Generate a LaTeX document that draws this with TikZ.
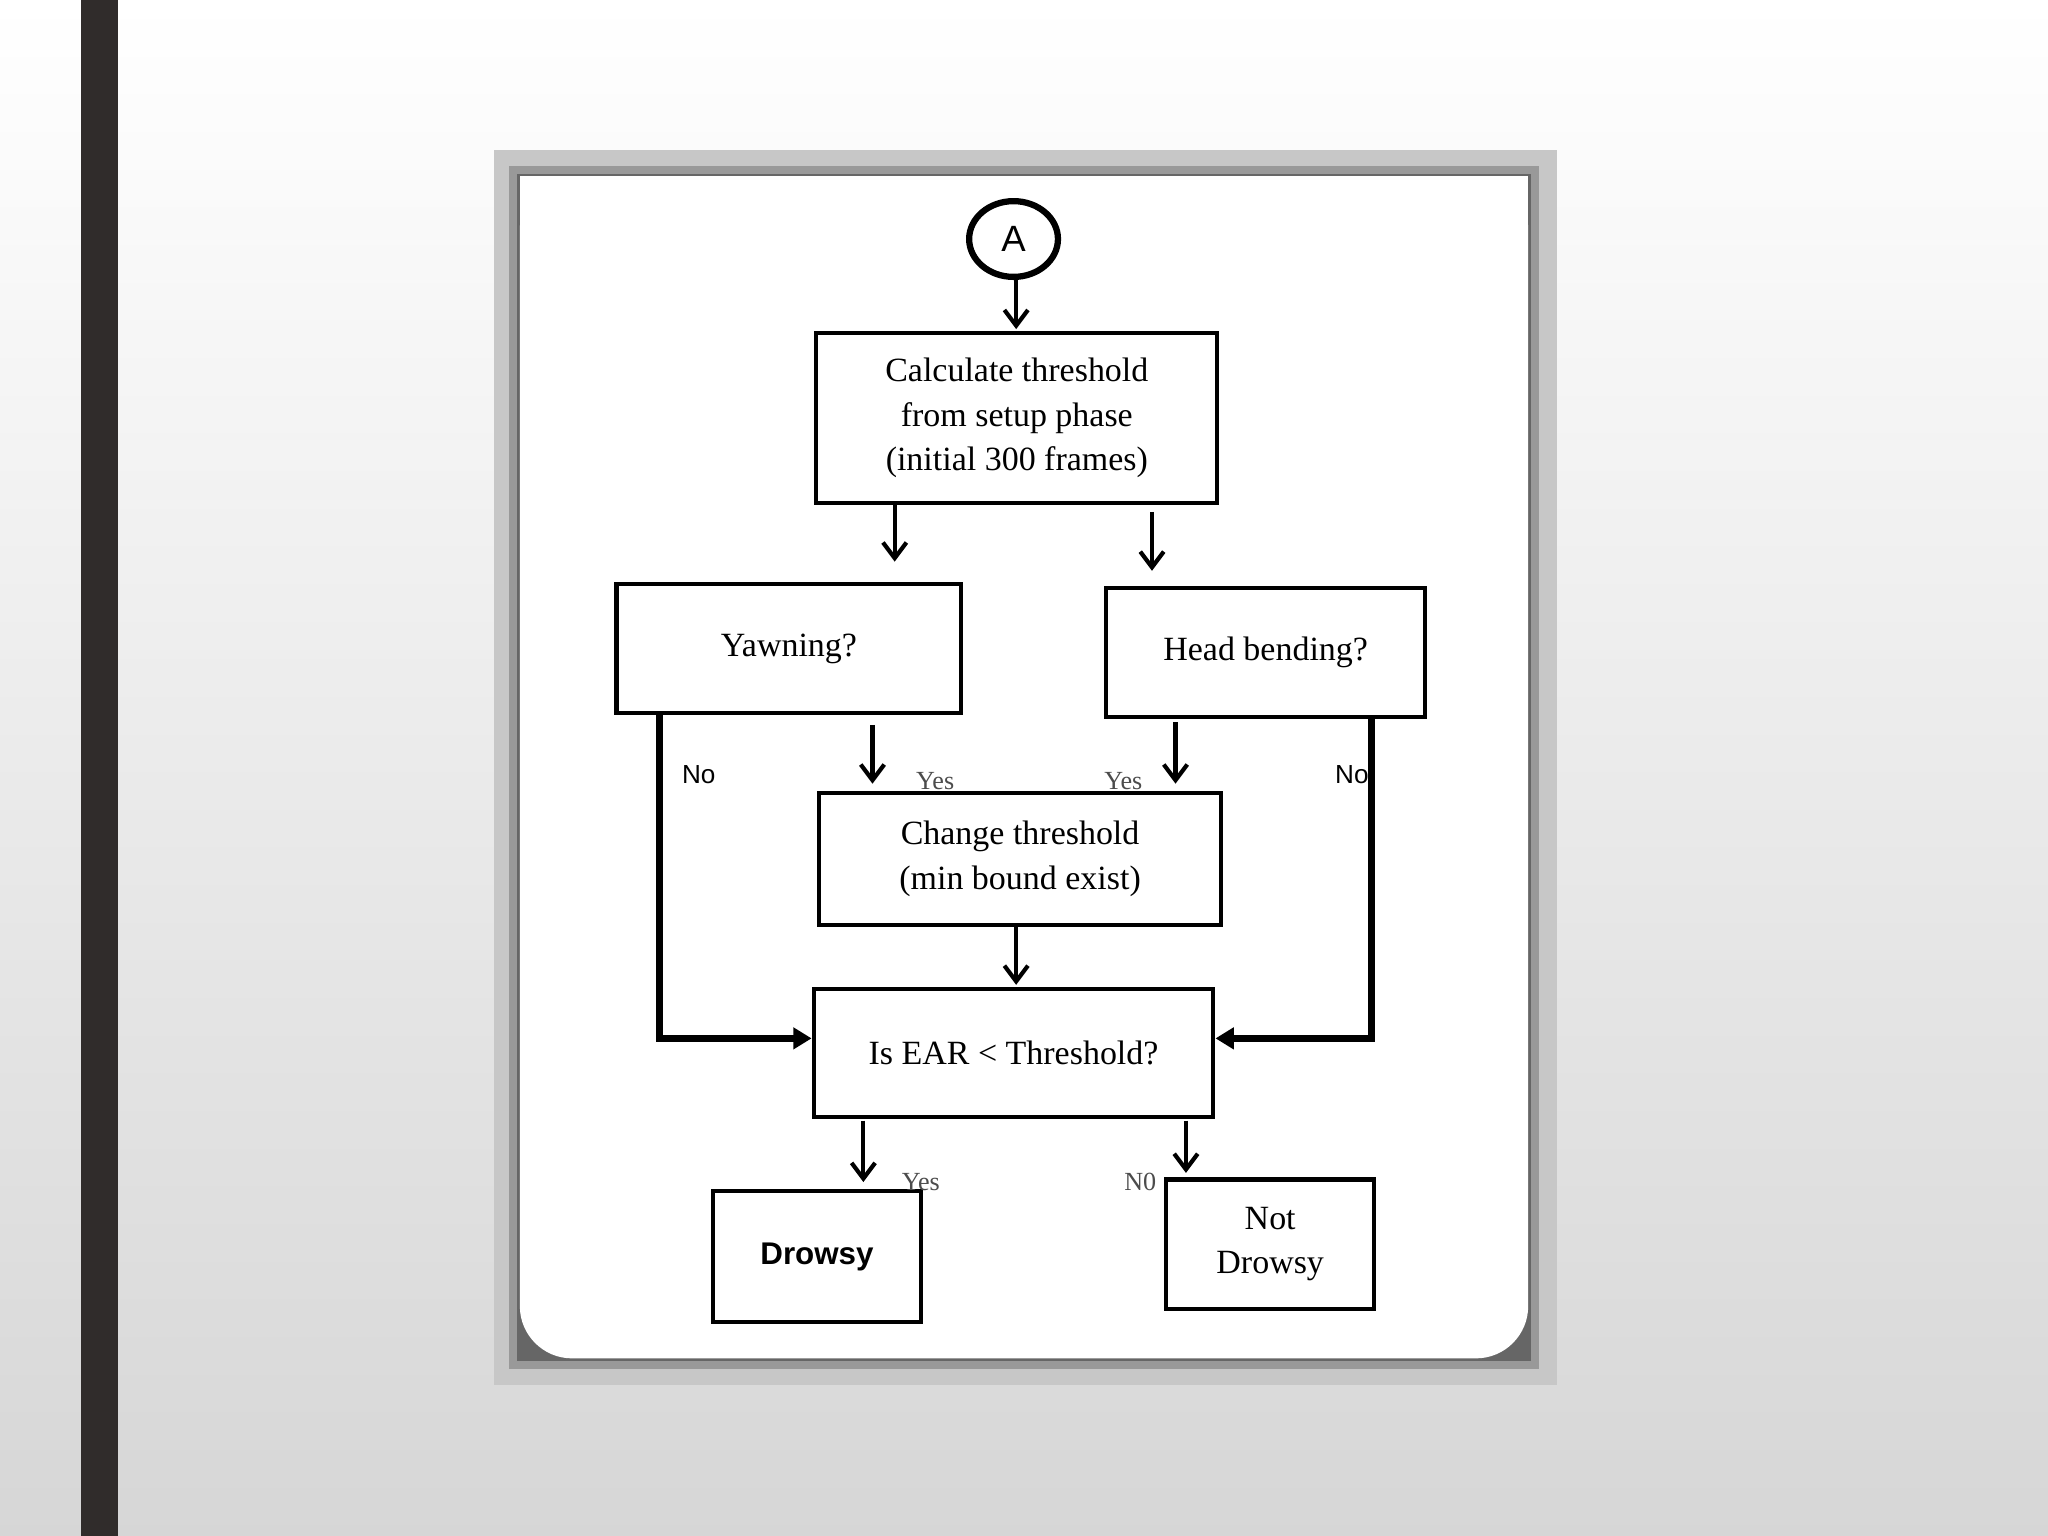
\documentclass[tikz,border=0pt]{standalone}
\usepackage{fontspec}
\setmainfont{Liberation Serif}
\newfontfamily\sansf{Liberation Sans}
\usetikzlibrary{arrows.meta,shapes.geometric}
\begin{document}
\begin{tikzpicture}[x=0.5pt,y=-0.5pt,
 box/.style={draw,line width=1.6pt,inner sep=0pt},
 arr/.style={line width=1.6pt,-{Straight Barb[length=6pt,width=9pt]}},
 thk/.style={line width=2.6pt,-{Triangle[length=7pt,width=8pt]}},
 lbl/.style={font=\fontsize{10}{12}\selectfont}]
\useasboundingbox (0,0) rectangle (1568,1176);
\shade[top color=white,bottom color=black!16] (0,0) rectangle (1568,1176);
\fill[black!90!yellow!60!black] (62,0) rectangle (90,1176);
\fill[black!22] (378,115) rectangle (1192,1060);
\fill[black!40] (390,127) rectangle (1178,1048);
\fill[black!60] (396,133) rectangle (1172,1042);
\fill[white,rounded corners=20pt] (398,135) -- (1170,135) -- (1170,1040) -- (398,1040) -- cycle;
\fill[white] (398,135) rectangle (1170,1000);
\node[draw,ellipse,line width=2.4pt,minimum width=34pt,minimum height=29pt,inner sep=0pt,font=\sansf\fontsize{14}{14}\selectfont] (A) at (776,183) {A};
\node[box,minimum width=153.5pt,minimum height=65pt,align=center,font=\fontsize{13}{17}\selectfont] (calc) at (778.5,320) {\raisebox{-5pt}{\parbox{150pt}{\centering Calculate threshold\\from setup phase\\(initial 300 frames)}}};
\node[box,minimum width=132pt,minimum height=49.5pt,font=\fontsize{13}{15}\selectfont] (yawn) at (604,496.5) {\raisebox{-5pt}{Yawning?}};
\node[box,minimum width=122pt,minimum height=49.5pt,font=\fontsize{13}{15}\selectfont] (head) at (969,499.5) {\raisebox{-5pt}{Head bending?}};
\node[box,minimum width=154pt,minimum height=50.5pt,font=\fontsize{13}{17}\selectfont] (chg) at (781,657.5) {\raisebox{-5pt}{\parbox{150pt}{\centering Change threshold\\(min bound exist)}}};
\node[box,minimum width=153pt,minimum height=49pt,font=\fontsize{13}{15}\selectfont] (ear) at (776,806) {\raisebox{-5pt}{Is EAR < Threshold?}};
\node[box,minimum width=79.5pt,minimum height=50pt,font=\sansf\bfseries\fontsize{12}{14}\selectfont] (dro) at (625.5,962) {\raisebox{-5pt}{Drowsy}};
\node[box,minimum width=79.5pt,minimum height=49.5pt,font=\fontsize{13}{17}\selectfont] (not) at (972.5,952.5) {\raisebox{-5pt}{\parbox{75pt}{\centering Not\\Drowsy}}};
\coordinate (a2) at (778,252);
\draw[arr] (A.south -| a2) -- (a2);
\coordinate (c1) at (685,387); \coordinate (c2) at (685,430);
\draw[arr] (c1) -- (c2);
\coordinate (c3) at (882,392); \coordinate (c4) at (882,437);
\draw[arr] (c3) -- (c4);
\coordinate (y1) at (668,555); \coordinate (y2) at (668,600);
\draw[arr] (y1) -- (y2);
\coordinate (h1) at (900,553); \coordinate (h2) at (900,600);
\draw[arr] (h1) -- (h2);
\coordinate (m1) at (778,710); \coordinate (m2) at (778,754);
\draw[arr] (m1) -- (m2);
\coordinate (e1) at (661,858); \coordinate (e2) at (661,905);
\draw[arr] (e1) -- (e2);
\coordinate (e3) at (908,858); \coordinate (e4) at (908,898);
\draw[arr] (e3) -- (e4);
\coordinate (nl) at (505,546); \coordinate (nr) at (1050,549);
\draw[thk] (nl) |- (ear.west |- 0,795);
\draw[thk] (nr) |- (ear.east |- 0,795);
\node[lbl,font=\sansf\fontsize{10}{12}\selectfont] (n1) at (535,593) {No};
\node[lbl,font=\sansf\fontsize{10}{12}\selectfont] (n2) at (1035,593) {No};
\node[lbl,text=black!70] (t1) at (716,598) {Yes};
\node[lbl,text=black!70] (t2) at (860,598) {Yes};
\node[lbl,text=black!70] (t3) at (705,905) {Yes};
\node[lbl,text=black!70] (t4) at (873,905) {N0};
\end{tikzpicture}
\end{document}
